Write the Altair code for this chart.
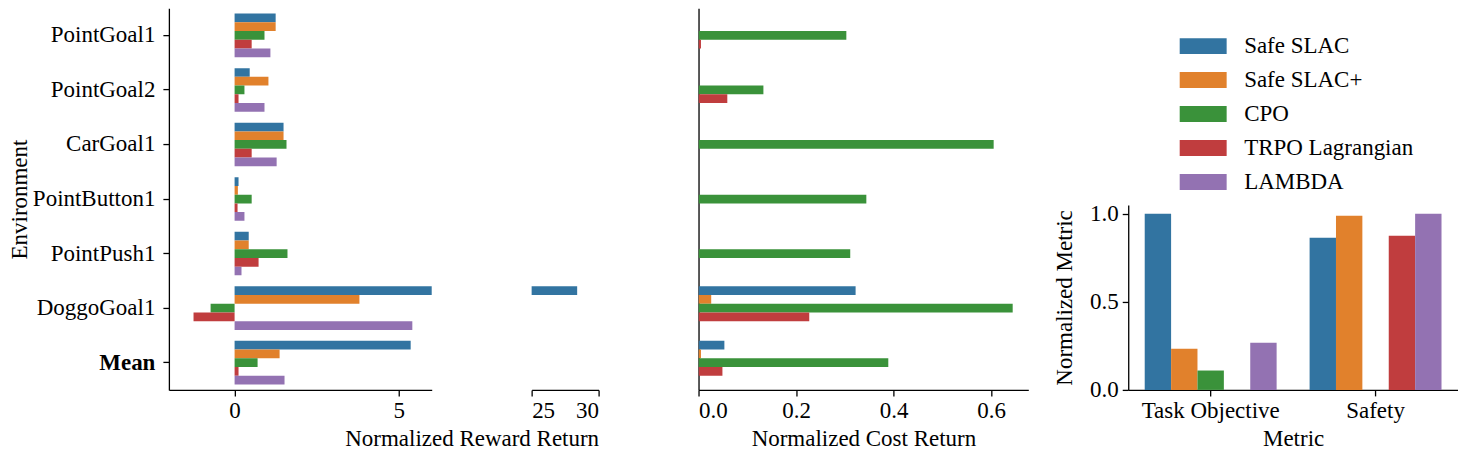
import pandas as pd
import altair as alt

FONT = "Liberation Serif"

methods = ["Safe SLAC", "Safe SLAC+", "CPO", "TRPO Lagrangian", "LAMBDA"]
colors = ["#3274a1", "#e1812c", "#3a923a", "#c03d3e", "#9372b2"]
envs = ["PointGoal1", "PointGoal2", "CarGoal1", "PointButton1", "PointPush1", "DoggoGoal1", "Mean"]

# normalized reward return, one list per method (order of envs)
reward_safe_slac = [1.25, 0.46, 1.49, 0.12, 0.43, 28.4, 5.36]
reward_safe_slac_plus = [1.25, 1.03, 1.49, 0.10, 0.43, 3.80, 1.37]
reward_cpo = [0.91, 0.30, 1.58, 0.52, 1.61, -0.73, 0.70]
reward_trpo_lag = [0.52, 0.12, 0.52, 0.09, 0.73, -1.25, 0.12]
reward_lambda = [1.09, 0.91, 1.28, 0.30, 0.21, 5.41, 1.52]

# normalized cost return
cost_safe_slac = [0.0, 0.0, 0.0, 0.0, 0.0, 0.322, 0.053]
cost_safe_slac_plus = [0.0, 0.0, 0.0, 0.0, 0.0, 0.026, 0.005]
cost_cpo = [0.303, 0.133, 0.605, 0.344, 0.311, 0.644, 0.389]
cost_trpo_lag = [0.005, 0.059, 0.0, 0.0, 0.0, 0.227, 0.049]
cost_lambda = [0.0, 0.0, 0.0, 0.0, 0.0, 0.0, 0.0]

# summary metrics
metrics = ["Task Objective", "Safety"]
metric_safe_slac = [1.0, 0.864]
metric_safe_slac_plus = [0.234, 0.989]
metric_cpo = [0.11, 0.0]
metric_trpo_lag = [0.0, 0.875]
metric_lambda = [0.268, 1.0]

reward_rows = [reward_safe_slac, reward_safe_slac_plus, reward_cpo, reward_trpo_lag, reward_lambda]
cost_rows = [cost_safe_slac, cost_safe_slac_plus, cost_cpo, cost_trpo_lag, cost_lambda]
metric_rows = [metric_safe_slac, metric_safe_slac_plus, metric_cpo, metric_trpo_lag, metric_lambda]

env_df = pd.DataFrame(
    [
        {"env": e, "method": m, "reward": r[i], "cost": c[i]}
        for m, r, c in zip(methods, reward_rows, cost_rows)
        for i, e in enumerate(envs)
    ]
)
metric_df = pd.DataFrame(
    [
        {"metric": k, "method": m, "value": v[i]}
        for m, v in zip(methods, metric_rows)
        for i, k in enumerate(metrics)
    ]
)

PLOT_H = 382
FS = 23

legend = alt.Legend(
    title=None,
    orient="none",
    legendX=1023,
    legendY=26,
    symbolType="M-2,-0.68H2V0.68H-2Z",
    symbolSize=552,
    symbolStrokeWidth=0,
    symbolOpacity=1,
    labelFontSize=FS,
    labelOffset=29,
    labelLimit=0,
    rowPadding=10,
)
color = alt.Color("method:N", sort=methods, scale=alt.Scale(domain=methods, range=colors), legend=legend)

y_env = alt.Scale(domain=envs, paddingInner=0.2, paddingOuter=0.1)
y_off = alt.YOffset("method:N", sort=methods, scale=alt.Scale(domain=methods, paddingInner=0, paddingOuter=0))
bold_mean = {"condition": {"test": "datum.value === 'Mean'", "value": "bold"}, "value": "normal"}

seg1 = (
    alt.Chart(env_df)
    .mark_bar(clip=True)
    .encode(
        x=alt.X("reward:Q", scale=alt.Scale(domain=[-2, 6], nice=False, zero=False),
                axis=alt.Axis(values=[0, 5], title=None)),
        y=alt.Y("env:N", sort=envs, scale=y_env,
                axis=alt.Axis(title="Environment", labelFontWeight=bold_mean,
                              labelPadding=8, titlePadding=1)),
        yOffset=y_off,
        color=color,
    )
    .properties(width=263, height=PLOT_H)
)

seg2 = (
    alt.Chart(env_df)
    .mark_bar(clip=True)
    .encode(
        x=alt.X("reward:Q", scale=alt.Scale(domain=[25, 30], nice=False, zero=False),
                axis=alt.Axis(values=[25, 30], title="Normalized Reward Return", titleAnchor="end")),
        y=alt.Y("env:N", sort=envs, scale=y_env, axis=None),
        yOffset=y_off,
        color=color,
    )
    .properties(width=67, height=PLOT_H)
)

cost = (
    alt.Chart(env_df)
    .mark_bar(clip=True)
    .encode(
        x=alt.X("cost:Q", scale=alt.Scale(domain=[0, 0.676], nice=False),
                axis=alt.Axis(values=[0, 0.2, 0.4, 0.6], format=".1f", title="Normalized Cost Return")),
        y=alt.Y("env:N", sort=envs, scale=y_env,
                axis=alt.Axis(labels=False, ticks=False, title=None)),
        yOffset=y_off,
        color=color,
    )
    .properties(width=330, height=PLOT_H)
)

spacer = (
    alt.Chart(pd.DataFrame({"v": [0]}))
    .mark_point(opacity=0)
    .encode(x=alt.value(165), y=alt.value(100))
    .properties(width=330, height=197)
)

summary = (
    alt.Chart(metric_df)
    .mark_bar()
    .encode(
        x=alt.X("metric:N", sort=metrics, title="Metric",
                scale=alt.Scale(paddingInner=0.2, paddingOuter=0.1),
                axis=alt.Axis(labelAngle=0)),
        xOffset=alt.XOffset("method:N", sort=methods,
                            scale=alt.Scale(domain=methods, paddingInner=0, paddingOuter=0)),
        y=alt.Y("value:Q", title="Normalized Metric",
                scale=alt.Scale(domain=[0, 1.05], nice=False),
                axis=alt.Axis(values=[0, 0.5, 1.0], format=".1f", titlePadding=13)),
        color=color,
    )
    .properties(width=330, height=PLOT_H - 197)
)

right = alt.vconcat(spacer, summary, spacing=0, bounds="flush")

chart = (
    alt.hconcat(seg1, seg2, cost, right, spacing=100, bounds="flush")
    .resolve_scale(x="independent", y="independent")
    .properties(padding=0, background="white")
    .configure(font=FONT)
    .configure_view(stroke="transparent", strokeWidth=0)
    .configure_axis(
        grid=False,
        domainColor="black",
        tickColor="black",
        domainWidth=1.3,
        tickWidth=1.3,
        tickSize=6,
        labelColor="black",
        titleColor="black",
        labelFontSize=FS,
        titleFontSize=FS,
        titleFontWeight="normal",
        labelPadding=4,
        titlePadding=5,
    )
    .configure_legend(labelColor="black", labelFont=FONT)
)

chart.save("out.html", embed_options={"renderer": "svg", "actions": False})
